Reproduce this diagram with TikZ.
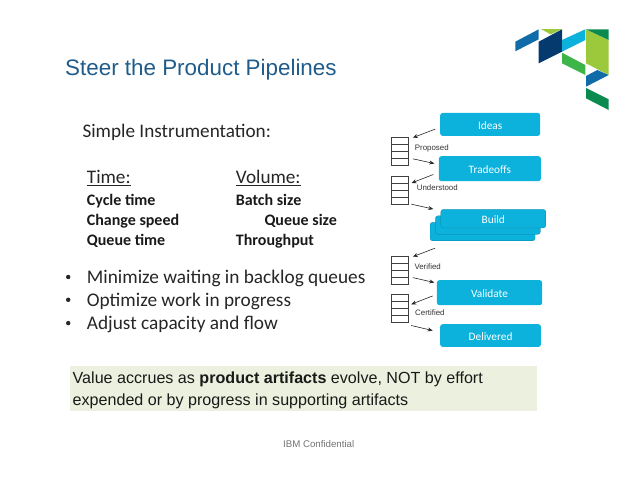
\documentclass[tikz,border=0pt]{standalone}
\usepackage{fontspec}
\setmainfont{Carlito}
\newfontfamily\arialfont{Liberation Sans}
\usetikzlibrary{arrows.meta, positioning, calc}
\definecolor{stagecyan}{HTML}{0CB2DC}
\definecolor{titleblue}{HTML}{1F5C8B}
\definecolor{notegreen}{HTML}{EBF1DE}
\definecolor{logoblue}{HTML}{0F6CA8}
\definecolor{logonavy}{HTML}{053A6E}
\definecolor{logolime}{HTML}{9CC83C}
\definecolor{logoteal}{HTML}{0B8A4F}
\definecolor{logogreen}{HTML}{3DB549}

\begin{document}
\begin{tikzpicture}[
        x=1pt, y=-1pt,
        stage/.style={fill=stagecyan, rounded corners=2.5pt, text=white, font=\fontsize{11.3}{13}\selectfont, text height=10pt, text depth=0.8pt, inner sep=0pt, anchor=north west},
        backstage/.style={stage, draw=stagecyan!70!black, line width=0.2pt, minimum width=105pt, minimum height=18.5pt},
        queue/.style={draw=black!75, line width=0.5pt, minimum width=17pt, minimum height=28pt, inner sep=0pt, anchor=north west,
            path picture={
                \draw[black!75, line width=0.5pt] (path picture bounding box.north west)++(0,-7pt) -- ++(17pt,0);
                \draw[black!75, line width=0.5pt] (path picture bounding box.west) -- (path picture bounding box.east);
                \draw[black!75, line width=0.5pt] (path picture bounding box.south west)++(0,7pt) -- ++(17pt,0);
            }},
        flow/.style={-{Stealth[length=5pt,width=4pt]}, line width=0.6pt, black!85},
        qlabel/.style={font=\arialfont\fontsize{7.9}{10}\selectfont, text=black!80, anchor=base west, inner sep=0pt},
        heading/.style={font=\fontsize{19.2}{22}\selectfont, text=black!85, anchor=base west, inner sep=0pt},
        metric/.style={font=\bfseries\fontsize{16}{18}\selectfont, text=black!90, anchor=base west, inner sep=0pt},
        point/.style={font=\fontsize{19.3}{22}\selectfont, text=black!85, anchor=base west, inner sep=0pt}
    ]
        \useasboundingbox (0,0) rectangle (638,493);
        % logo
        \fill[logoblue] (515.3,41.7) -- (538.7,29.3) -- (538.7,39.3) -- (515.3,51.3) -- cycle;
        \fill[logolime] (540.7,29) -- (562,29) -- (550.7,34.3) -- cycle;
        \fill[logonavy] (538.7,41.7) -- (562,29.3) -- (562,51.7) -- (538.7,63.3) -- cycle;
        \fill[stagecyan] (562,40) -- (585.3,29.3) -- (585.3,40) -- (562,51.7) -- cycle;
        \fill[logolime] (586,29.3) -- (608.7,40) -- (608.7,75) -- (586,63.3) -- cycle;
        \fill[logoteal] (586,29.3) -- (608.7,29.3) -- (608.7,40) -- cycle;
        \fill[logogreen] (562,52.7) -- (585.3,65) -- (585.3,75) -- (562,63.3) -- cycle;
        \fill[logoblue] (586,76) -- (597.3,70) -- (608.7,75) -- (586,86.7) -- cycle;
        \fill[logoteal] (586,88) -- (608.7,99.3) -- (608.7,110) -- (586,98.3) -- cycle;

        \node[font=\arialfont\fontsize{22.4}{26}\selectfont, text=titleblue, anchor=base west, inner sep=0pt] (title) at (65,75) {Steer the Product Pipelines};

        % left column
        \node[heading] (simple) at (82.3,137.5) {Simple Instrumentation:};
        \node[heading] (time) at (86.7,183.5) {\underline{Time:}};
        \node[heading] (volume) at (235.7,183.5) {\underline{Volume:}};
        \node[metric] (cycle) at (86.7,205.7) {Cycle time};
        \node[metric] (change) at (86.7,225.7) {Change speed};
        \node[metric] (qtime) at (86.7,245.5) {Queue time};
        \node[metric] (batch) at (235.7,205.7) {Batch size};
        \node[metric] (qsize) at (264.3,225.7) {Queue size};
        \node[metric] (through) at (235.7,245.5) {Throughput};
        \node[point] (b1) at (86.7,283.5) {Minimize waiting in backlog queues};
        \node[point] (b2) at (86.7,306.3) {Optimize work in progress};
        \node[point] (b3) at (86.7,329.6) {Adjust capacity and flow};
        \foreach \b in {b1,b2,b3} \fill[black!85] ([shift={(-18.5,-6.5)}]\b.base west) circle (2.2pt);

        % stages
        \node[stage, minimum width=100pt, minimum height=23pt] (ideas) at (440,112.7) {Ideas};
        \node[stage, minimum width=102pt, minimum height=25pt] (tradeoffs) at (438.7,156) {Tradeoffs};
        \node[backstage] (buildc) at (430,222.2) {};
        \node[backstage] (buildb) at (435.3,215.7) {};
        \node[backstage] (build) at (440.7,209.3) {Build};
        \node[stage, minimum width=105.3pt, minimum height=25pt] (validate) at (436.7,280) {Validate};
        \node[stage, minimum width=100.7pt, minimum height=22.7pt] (delivered) at (440,324) {Delivered};

        % queues
        \node[queue] (q1) at (391,136.7) {};
        \node[queue] (q2) at (391,175.7) {};
        \node[queue] (q3) at (391,255.7) {};
        \node[queue] (q4) at (391,294.3) {};
        \node[qlabel] (proposed) at (414.7,150.6) {Proposed};
        \node[qlabel] (understood) at (416.7,190.2) {Understood};
        \node[qlabel] (verified) at (414.3,269.2) {Verified};
        \node[qlabel] (certified) at (415,315.2) {Certified};

        \draw[flow] ([shift={(-5,4.8)}]ideas.west) -- ([shift={(4.3,1)}]q1.north east);
        \draw[flow] ([shift={(4.3,-6.4)}]q1.south east) -- ([shift={(-4.4,-5.2)}]tradeoffs.west);
        \draw[flow] ([shift={(-5.4,5.8)}]tradeoffs.west) -- ([shift={(3,7.3)}]q2.north east);
        \draw[flow] ([shift={(3,0)}]q2.south east) -- ([shift={(-7.4,-9.6)}]build.west);
        \draw[flow] ([shift={(5,7.3)}]buildc.south west) -- ([shift={(4.3,1)}]q3.north east);
        \draw[flow] ([shift={(4.3,-6.6)}]q3.south east) -- ([shift={(-2.4,-10.2)}]validate.west);
        \draw[flow] ([shift={(-4,3.2)}]validate.west) -- ([shift={(2.7,10)}]q4.north east);
        \draw[flow] ([shift={(2.7,2.7)}]q4.south east) -- ([shift={(-7.3,-5)}]delivered.west);

        % note and footer
        \node[fill=notegreen, minimum width=467pt, minimum height=45pt, inner sep=0pt, anchor=north west] (note) at (70,366) {};
        \node[font=\arialfont\fontsize{16.1}{22}\selectfont, align=left, anchor=west, inner sep=0pt, text=black!90] (notetext) at (72.5,390) {Value accrues as \textbf{product artifacts} evolve, NOT by effort\\expended or by progress in supporting artifacts};
        \node[font=\arialfont\fontsize{9.7}{11}\selectfont, text=black!55, inner sep=0pt, below=29pt of note, xshift=15pt] (footer) {IBM Confidential};
    \end{tikzpicture}
\end{document}
